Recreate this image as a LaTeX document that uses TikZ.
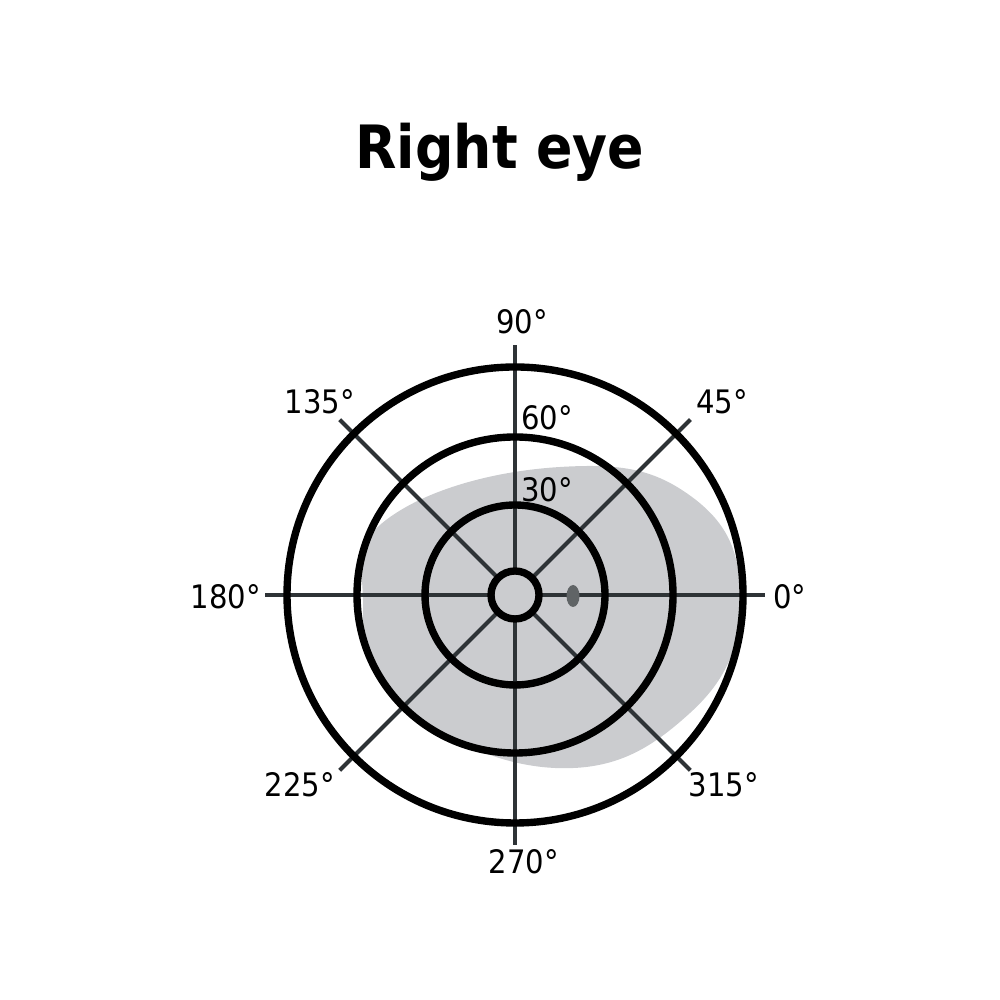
\documentclass[tikz,border=0pt]{standalone}
\usepackage{fontspec}
\setmainfont{DejaVu Sans Condensed}
\usetikzlibrary{calc}
\definecolor{fieldgray}{HTML}{CBCCCF}
\definecolor{spokegray}{HTML}{2E3336}
\definecolor{spotgray}{HTML}{606466}
\def\lbl{\fontsize{9.2}{11}\selectfont}

\begin{document}
\begin{tikzpicture}[
    spoke/.style={line width=1.15pt, spokegray},
    ring/.style={line width=2.1pt, black},
    deg/.style={inner sep=0pt, font=\lbl}
]
\useasboundingbox (0,0) rectangle (10,10);

\coordinate (c) at (5.15,4.05);

\node[inner sep=0pt, font=\fontsize{17}{20}\selectfont\bfseries] (title) at (5.00,8.48) {Right eye};

\fill[fieldgray] plot[smooth cycle, tension=0.75] coordinates {(3.63,4.00) (3.93,4.85) (5.60,5.33) (6.92,5.03) (7.40,4.00) (6.90,2.87) (5.55,2.32) (3.97,3.00)};

\draw[spoke] ($(c)+(0:0.24)$) -- ($(c)+(0:2.50)$);
\draw[spoke] ($(c)+(45:0.24)$) -- ($(c)+(45:2.48)$);
\draw[spoke] ($(c)+(90:0.24)$) -- ($(c)+(90:2.50)$);
\draw[spoke] ($(c)+(135:0.24)$) -- ($(c)+(135:2.48)$);
\draw[spoke] ($(c)+(180:0.24)$) -- ($(c)+(180:2.50)$);
\draw[spoke] ($(c)+(225:0.24)$) -- ($(c)+(225:2.48)$);
\draw[spoke] ($(c)+(270:0.24)$) -- ($(c)+(270:2.50)$);
\draw[spoke] ($(c)+(315:0.24)$) -- ($(c)+(315:2.48)$);

\draw[ring] (c) circle (0.24);
\draw[ring] (c) circle (0.90);
\draw[ring] (c) circle (1.58);
\draw[ring] (c) circle (2.28);

\fill[spotgray] (5.73,4.04) ellipse (0.065 and 0.11);

\node[deg] (d90) at (5.22,6.78) {90°};
\node[deg] (d60) at (5.47,5.82) {60°};
\node[deg] (d30) at (5.47,5.10) {30°};
\node[deg] (d45) at (7.22,5.98) {45°};
\node[deg] (d135) at (3.20,5.98) {135°};
\node[deg] (d180) at (2.26,4.03) {180°};
\node[deg] (d0) at (7.90,4.03) {0°};
\node[deg] (d225) at (3.00,2.15) {225°};
\node[deg] (d270) at (5.24,1.38) {270°};
\node[deg] (d315) at (7.24,2.15) {315°};
\end{tikzpicture}
\end{document}
